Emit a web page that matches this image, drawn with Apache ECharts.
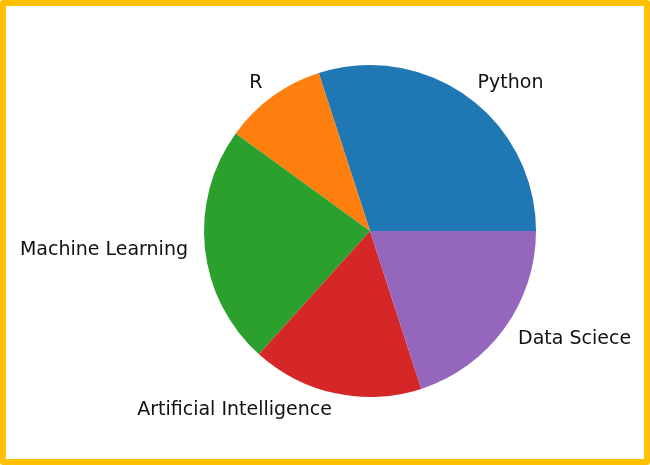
<!DOCTYPE html>
<html>
<head>
<meta charset="utf-8">
<script src="https://cdn.jsdelivr.net/npm/echarts@6/dist/echarts.min.js"></script>
<style>
  html, body { margin: 0; padding: 0; background: #fff; }
  #frame { width: 650px; height: 465px; box-sizing: border-box; border: 6px solid #FFC000; border-radius: 3px; background: #fff; }
  #chart { width: 638px; height: 453px; }
</style>
</head>
<body>
<div id="frame"><div id="chart"></div></div>
<script>
const categories = ['Python', 'R', 'Machine Learning', 'Artificial Intelligence', 'Data Sciece'];
const values = [90, 30, 70, 50, 60];
const colors = ['#1f77b4', '#ff7f0e', '#2ca02c', '#d62728', '#9467bd'];

const chart = echarts.init(document.getElementById('chart'), null, { renderer: 'canvas' });
chart.setOption({
  animation: false,
  series: [{
    type: 'pie',
    center: [364, 225],
    radius: 166,
    startAngle: 0,
    clockwise: false,
    avoidLabelOverlap: false,
    itemStyle: { borderWidth: 0 },
    label: {
      show: true,
      position: 'outside',
      fontFamily: 'DejaVu Sans',
      fontSize: 19,
      color: '#111111',
      padding: [4, 0, 0, 0],
      distanceToLabelLine: 0
    },
    labelLine: { show: false, length: 17, length2: 0 },
    emphasis: { disabled: true },
    data: categories.map((c, i) => ({ name: c, value: values[i], itemStyle: { color: colors[i] } }))
  }]
});
</script>
</body>
</html>
